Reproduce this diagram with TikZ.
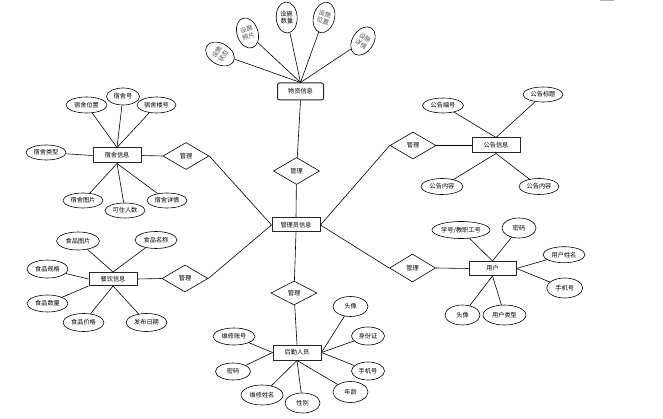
\documentclass[tikz,border=0pt]{standalone}
\usepackage{fontspec}
\newfontfamily\cjk{Noto Sans CJK SC}
\usetikzlibrary{shapes.geometric}
\newcommand\erfont{\cjk\fontsize{6.2}{7.4}\selectfont}
\begin{document}
\begin{tikzpicture}[x=1pt,y=-1pt,
  ent/.style={draw=black!85, line width=1pt, rectangle, minimum width=48pt, minimum height=14pt, inner sep=0pt, font=\erfont},
  attr/.style={draw, ellipse, line width=0.6pt, inner sep=0pt, font=\erfont},
  rel/.style={draw, diamond, line width=0.6pt, inner sep=0pt, minimum width=46pt, minimum height=27pt, font=\erfont},
  tattr/.style={draw, ellipse, line width=0.6pt, inner sep=0pt, align=center, minimum width=21pt, minimum height=31pt, font=\erfont, text=black!70},
  lnk/.style={line width=0.6pt}]
\useasboundingbox (0,0) rectangle (663,419);
\fill[white] (0,0) rectangle (663,419);
\draw[black!30, line width=0.8pt] (600,0.5) -- (614,0.5);

% central
\node[ent] (admin) at (296,225) {管理员信息};
\node[rel] (rT) at (296.5,171) {管理};
\node[rel, minimum height=24pt] (rB) at (294,293) {管理};
\node[rel] (rLT) at (186,156) {管理};
\node[rel] (rLB) at (185,278.5) {管理};
\node[rel] (rRT) at (413,145.5) {管理};
\node[rel, minimum height=28pt] (rRB) at (412.5,268) {管理};

% supplies
\node[ent, rounded corners=2pt, minimum width=46pt, minimum height=17pt] (wz) at (300.5,91.5) {物资信息};
\node[tattr, rotate=60] (t1) at (220,54) {设施\\状态};
\node[tattr, rotate=18] (t2) at (247.5,33) {设施\\照片};
\node[tattr, rotate=3, text=black] (t3) at (286.7,17.5) {设施\\数量};
\node[tattr, rotate=-15] (t4) at (324,17.5) {设施\\位置};
\node[tattr, rotate=-33] (t5) at (363,41) {设施\\详情};

% dorm
\node[ent, minimum height=15pt] (dorm) at (117,155.5) {宿舍信息};
\node[attr, minimum width=41pt, minimum height=16pt] (d1) at (86.5,105) {宿舍位置};
\node[attr, minimum width=33pt, minimum height=17pt] (d2) at (123,96.5) {宿舍号};
\node[attr, minimum width=39pt, minimum height=16pt] (d3) at (156.5,105) {宿舍楼号};
\node[attr, minimum width=40pt, minimum height=15pt] (d4) at (46,152.5) {宿舍类型};
\node[attr, minimum width=40pt, minimum height=15pt] (d5) at (83,200.5) {宿舍图片};
\node[attr, minimum width=40pt, minimum height=15pt] (d6) at (125,210.5) {可住人数};
\node[attr, minimum width=40pt, minimum height=15pt] (d7) at (167,200.5) {宿舍详情};

% notice
\node[ent, minimum height=15pt] (notice) at (496,145.5) {公告信息};
\node[attr, minimum width=41pt, minimum height=15pt] (n1) at (443,105.5) {公告编号};
\node[attr, minimum width=40pt, minimum height=15pt] (n2) at (543,94.5) {公告标题};
\node[attr, minimum width=42pt, minimum height=16pt] (n3) at (442,186.5) {公告内容};
\node[attr, minimum width=40pt, minimum height=16pt] (n4) at (539,186.5) {公告内容};

% user
\node[ent, minimum width=47pt] (user) at (492.5,268.5) {用户};
\node[attr, minimum width=58pt, minimum height=17pt] (u1) at (461,230) {学号/教职工号};
\node[attr, minimum width=34pt, minimum height=20pt] (u2) at (519,228) {密码};
\node[attr, minimum width=42pt, minimum height=16pt] (u3) at (564,254.7) {用户姓名};
\node[attr, minimum width=36pt, minimum height=20pt] (u4) at (564.7,288) {手机号};
\node[attr, minimum width=35pt, minimum height=20pt] (u5) at (462.5,315) {头像};
\node[attr, minimum width=43pt, minimum height=20pt] (u6) at (504.5,315) {用户类型};

% staff
\node[ent, minimum height=15pt] (staff) at (297,352.5) {后勤人员};
\node[attr, minimum width=42pt, minimum height=17pt] (s1) at (234,336.5) {维修账号};
\node[attr, minimum width=35pt, minimum height=17pt] (s2) at (233,371.5) {密码};
\node[attr, minimum width=42pt, minimum height=20pt] (s3) at (262,395) {维修姓名};
\node[attr, minimum width=35pt, minimum height=20pt] (s4) at (302.5,403) {性别};
\node[attr, minimum width=35pt, minimum height=21pt] (s5) at (350.5,392) {年龄};
\node[attr, minimum width=33pt, minimum height=18pt] (s6) at (368,371) {手机号};
\node[attr, minimum width=33pt, minimum height=18pt] (s7) at (368,336) {身份证};
\node[attr, minimum width=35pt, minimum height=20pt] (s8) at (350.5,306.5) {头像};

% food
\node[ent, minimum height=13pt] (food) at (113,279) {餐饮信息};
\node[attr, minimum width=43pt, minimum height=18pt] (f1) at (78,241) {食品图片};
\node[attr, minimum width=42pt, minimum height=17pt] (f2) at (156,240) {食品名称};
\node[attr, minimum width=41pt, minimum height=18pt] (f3) at (47.5,269) {食品规格};
\node[attr, minimum width=41pt, minimum height=17pt] (f4) at (47.5,303.5) {食品数量};
\node[attr, minimum width=41pt, minimum height=18pt] (f5) at (83.5,322.5) {食品价格};
\node[attr, minimum width=41pt, minimum height=18pt] (f6) at (146.5,322.5) {发布日期};

\begin{scope}[lnk]
% relations
\draw (rT) -- (admin.north);
\draw (rT) -- (wz.south);
\draw (rB) -- (admin.south);
\draw (rB) -- (staff.north);
\draw (rLT.east) -- (admin.west);
\draw (rLT.west) -- (dorm.east);
\draw (rLB.east) -- (admin.west);
\draw (rLB.west) -- (food.east);
\draw (rRT.west) -- (admin.east);
\draw (rRT.east) -- (notice.west);
\draw (rRB.west) -- (admin.east);
\draw (rRB.east) -- (user.west);
% supplies
\foreach \n in {t1,t2,t3,t4,t5} \draw (\n) -- (wz.north);
% dorm
\foreach \n in {d1,d2,d3} \draw (\n) -- (dorm.north);
\draw (d4) -- (dorm.west);
\foreach \n in {d5,d6,d7} \draw (\n) -- (dorm.south);
% notice
\foreach \n in {n1,n2} \draw (\n) -- (notice.north);
\foreach \n in {n3,n4} \draw (\n) -- (notice.south);
% user
\foreach \n in {u1,u2} \draw (\n) -- (user.north);
\foreach \n in {u3,u4} \draw (\n) -- (user.east);
\foreach \n in {u5,u6} \draw (\n) -- (user.south);
% staff
\foreach \n in {s1,s2} \draw (\n) -- (staff.west);
\foreach \n in {s3,s4,s5} \draw (\n) -- (staff.south);
\foreach \n in {s6,s7,s8} \draw (\n) -- (staff.east);
% food
\foreach \n in {f1,f2} \draw (\n) -- (food.north);
\draw (f3) -- (food.west);
\draw (f4) -- (food.south west);
\foreach \n in {f5,f6} \draw (\n) -- (food.south);
\end{scope}
\end{tikzpicture}
\end{document}
